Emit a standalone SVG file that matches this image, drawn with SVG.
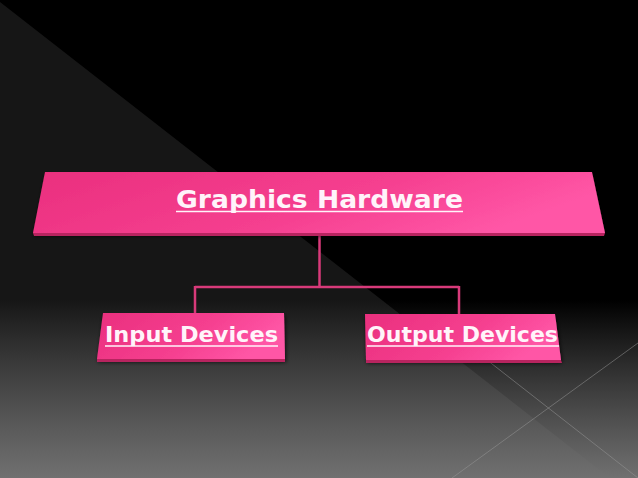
<svg xmlns="http://www.w3.org/2000/svg" width="638" height="478" viewBox="0 0 638 478">
  <defs>
    <linearGradient id="pink" x1="0" y1="0" x2="1" y2="0.3">
      <stop offset="0" stop-color="#ea2f7e"/>
      <stop offset="0.6" stop-color="#f53f8f"/>
      <stop offset="1" stop-color="#ff56a6"/>
    </linearGradient>
    <linearGradient id="floor" x1="0" y1="0" x2="0" y2="1">
      <stop offset="0" stop-color="#808080" stop-opacity="0"/>
      <stop offset="1" stop-color="#707070" stop-opacity="1"/>
    </linearGradient>
    <filter id="sh" x="-5%" y="-20%" width="110%" height="150%">
      <feDropShadow dx="1" dy="3" stdDeviation="2" flood-color="#000" flood-opacity="0.8"/>
    </filter>
  </defs>
  <style>
    .box { fill: url(#pink); filter: url(#sh); }
    .edge { fill: #b8245f; }
    .lbl { font-family: "DejaVu Sans", "Liberation Sans", sans-serif; font-weight: bold; fill: #fff4fa; }
    .ul { stroke: #fff4fa; stroke-width: 1.6; }
    .conn { fill: none; stroke: #d83a7a; stroke-width: 2.5; }
  </style>

  <!-- background -->
  <rect x="0" y="0" width="638" height="478" fill="#000"/>
  <polygon points="0,2 638,500 638,478 0,478" fill="#161616"/>
  <rect x="0" y="300" width="638" height="178" fill="url(#floor)"/>
  <line x1="452" y1="478" x2="638" y2="343" stroke="#9a9a9a" stroke-opacity="0.5" stroke-width="1"/>
  <line x1="487" y1="360" x2="638" y2="478" stroke="#9a9a9a" stroke-opacity="0.5" stroke-width="1"/>

  <!-- connectors -->
  <g id="connectors">
    <path class="conn" d="M319.5,233 V287 M195,287 H459 M195,286 V313 M459,286 V314"/>
  </g>

  <g id="graphics-hardware">
    <polygon class="box" points="45,172 592,172 605,233 33,233"/>
    <polygon class="edge" points="33,233 605,233 604,236 34,236"/>
    <text class="lbl" x="319.5" y="208" font-size="24" text-anchor="middle" textLength="287" lengthAdjust="spacingAndGlyphs">Graphics Hardware</text>
    <line class="ul" x1="176" y1="211.5" x2="463" y2="211.5"/>
  </g>

  <g id="input-devices">
    <polygon class="box" points="103,313 284,313 285,359 97,359"/>
    <polygon class="edge" points="97,359 285,359 285,362 97,362"/>
    <text class="lbl" x="191.5" y="342" font-size="21" text-anchor="middle" textLength="173" lengthAdjust="spacingAndGlyphs">Input Devices</text>
    <line class="ul" x1="105" y1="346" x2="278" y2="346"/>
  </g>

  <g id="output-devices">
    <polygon class="box" points="365,314 555,314 561,360 366,360"/>
    <polygon class="edge" points="366,360 561,360 562,363 366,363"/>
    <text class="lbl" x="462.5" y="342" font-size="21" text-anchor="middle" textLength="191" lengthAdjust="spacingAndGlyphs">Output Devices</text>
    <line class="ul" x1="367" y1="346" x2="559" y2="346"/>
  </g>
</svg>
